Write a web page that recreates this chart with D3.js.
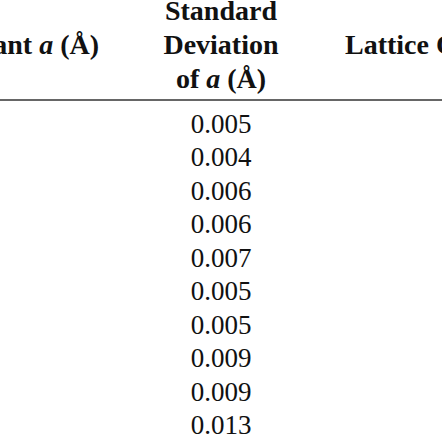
<!DOCTYPE html>
<html><head><meta charset="utf-8">
<script src="https://cdn.jsdelivr.net/npm/d3@7"></script>
<style>body{margin:0;background:#fff}</style>
</head><body>
<div id="chart"></div>
<script>
const stdDevA = ["0.005","0.004","0.006","0.006","0.007","0.005","0.005","0.009","0.009","0.013"];
const headerLeft = ["ant ", "a", " (Å)"];
const headerMid = [["Standard"], ["Deviation"], ["of ", "a", " (Å)"]];
const headerRight = ["Lattice C"];

const W = 442, H = 442;
const font = "'Liberation Serif', 'DejaVu Serif', serif";
const svg = d3.select("#chart").append("svg").attr("width", W).attr("height", H);

const y = d3.scalePoint().domain(d3.range(stdDevA.length)).range([124, 425]);
const headY = d3.scalePoint().domain([0, 1, 2]).range([10, 78]);

function richText(g, parts, x, yy, anchor) {
  const t = g.append("text").attr("x", x).attr("y", yy).attr("text-anchor", anchor)
    .attr("dominant-baseline", "central").attr("font-family", font)
    .attr("font-size", 28).attr("font-weight", "bold").attr("fill", "#111");
  parts.forEach(p => t.append("tspan").attr("font-style", p === "a" ? "italic" : null).text(p));
}

const head = svg.append("g");
headerMid.forEach((parts, i) => richText(head, parts, 221, headY(i), "middle"));
richText(head, headerLeft, 99, headY(1), "end");
richText(head, headerRight, 345, headY(1), "start");

svg.append("line").attr("x1", 0).attr("x2", W).attr("y1", 100).attr("y2", 100)
  .attr("stroke", "#333").attr("stroke-width", 1.5);

svg.append("g").selectAll("text").data(stdDevA).join("text")
  .attr("x", 221).attr("y", (d, i) => y(i)).attr("text-anchor", "middle")
  .attr("dominant-baseline", "central").attr("font-family", font)
  .attr("font-size", 27).attr("fill", "#111").text(d => d);
</script>
</body></html>
